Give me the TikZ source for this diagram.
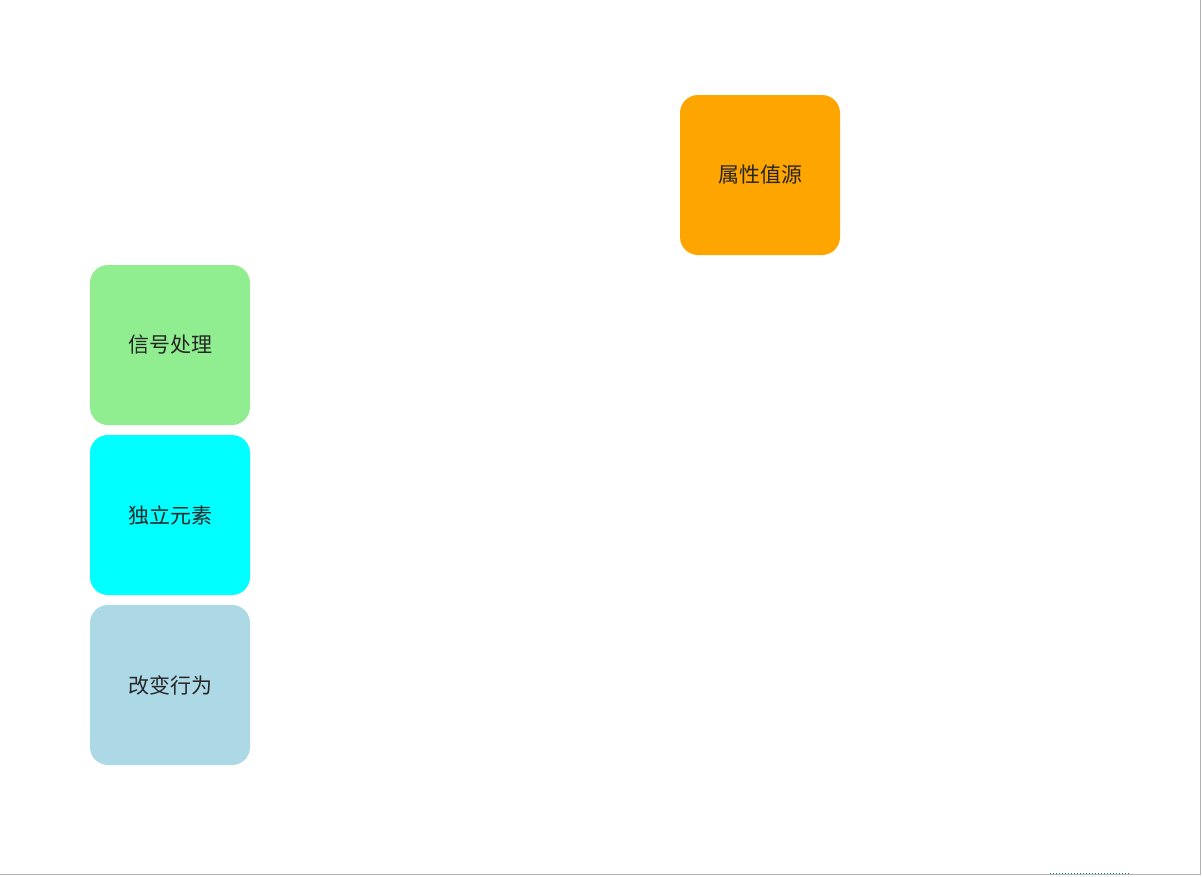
\documentclass[tikz,border=0pt]{standalone}
\usepackage{fontspec}
\newfontfamily\cjk{Noto Sans CJK SC}
\definecolor{corange}{HTML}{FFA500}
\definecolor{cgreen}{HTML}{90EE90}
\definecolor{ccyan}{HTML}{00FFFF}
\definecolor{cblue}{HTML}{ADD8E6}
\begin{document}
\begin{tikzpicture}[x=1pt,y=-1pt,
  box/.style={rounded corners=18pt,minimum width=160pt,minimum height=160pt,inner sep=0pt,font=\cjk\fontsize{21pt}{24pt}\selectfont,text=black!85}]
\useasboundingbox (0,0) rectangle (1202,876);
\fill[white] (0,0) rectangle (1202,876);
\draw[gray!60,line width=1pt] (1200.5,0) -- (1200.5,874.5) -- (0,874.5);
\node[box,fill=corange] (a) at (760,175) {属性值源};
\node[box,fill=cgreen] (b) at (170,345) {信号处理};
\node[box,fill=ccyan] (c) at (170,515) {独立元素};
\node[box,fill=cblue] (d) at (170,685) {改变行为};
\draw[teal,dotted,line width=1pt] (1050,873) -- (1130,873);
\end{tikzpicture}
\end{document}
